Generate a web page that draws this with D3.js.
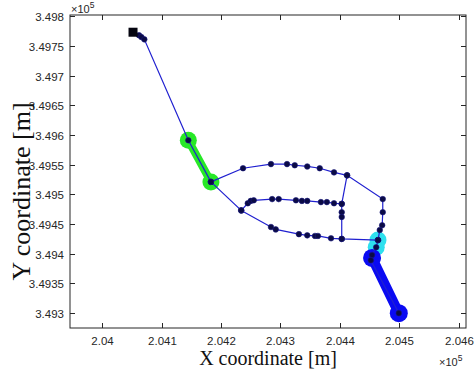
<!DOCTYPE html>
<html><head><meta charset="utf-8">
<script src="https://cdn.jsdelivr.net/npm/d3@7"></script>
<style>body{margin:0;background:#fff}svg{display:block}</style>
</head><body>
<svg id="chart" width="474" height="374"></svg>
<script>
// ---- data (metres) ----
const xTicks = [204000, 204100, 204200, 204300, 204400, 204500, 204600];
const xTickLabels = ["2.04","2.041","2.042","2.043","2.044","2.045","2.046"];
const yTicks = [349300,349350,349400,349450,349500,349550,349600,349650,349700,349750,349800];
const yTickLabels = ["3.493","3.4935","3.494","3.4945","3.495","3.4955","3.496","3.4965","3.497","3.4975","3.498"];

// trunk from start to first junction
const trunkX = [204052, 204062, 204066, 204071, 204145, 204183];
const trunkY = [349773, 349768, 349765, 349761, 349591, 349521];
// outer upper arc to east side
const outerX = [204183, 204237, 204284, 204311, 204324, 204345, 204366, 204390, 204412, 204472, 204472, 204471, 204467, 204464];
const outerY = [349521, 349544, 349551, 349551, 349549, 349547, 349544, 349537, 349532, 349492, 349470, 349448, 349440, 349423];
// connector from arc down the middle column
const connX = [204412, 204403, 204403, 204403, 204403];
const connY = [349532, 349484, 349470, 349462, 349425];
// inner row
const innerX = [204183, 204234, 204245, 204250, 204255, 204286, 204297, 204326, 204336, 204345, 204368, 204378, 204390, 204403];
const innerY = [349521, 349473, 349485, 349489, 349490, 349492, 349492, 349490, 349489, 349489, 349487, 349487, 349485, 349484];
// lower row
const lowerX = [204234, 204284, 204292, 204331, 204345, 204358, 204363, 204385, 204403, 204464];
const lowerY = [349473, 349445, 349441, 349433, 349431, 349430, 349430, 349426, 349425, 349423];
// exit leg
const exitX = [204464, 204461, 204454, 204452, 204499];
const exitY = [349423, 349411, 349398, 349389, 349300];

// highlighted segments
const greenX = [204145, 204183], greenY = [349591, 349521];
const cyanX  = [204464, 204461], cyanY  = [349423, 349411];
const blueX  = [204454, 204499], blueY  = [349393, 349300];

const startX = [204052], startY = [349773];

// ---- layout ----
const svg = d3.select("#chart");
const L = 70, R = 466, T = 15, B = 328;
const x = d3.scaleLinear().domain([203946, 204612]).range([L, R]);
const y = d3.scaleLinear().domain([349275, 349802]).range([B, T]);

const zip = (xs, ys) => xs.map((v, i) => [v, ys[i]]);
const line = d3.line().x(d => x(d[0])).y(d => y(d[1]));

const clip = svg.append("clipPath").attr("id", "clp").append("rect")
  .attr("x", L).attr("y", T).attr("width", R - L).attr("height", B - T);
const plot = svg.append("g").attr("clip-path", "url(#clp)");

// highlight segments
function highlight(xs, ys, color, w, r) {
  const pts = zip(xs, ys);
  plot.append("path").attr("d", line(pts)).attr("fill", "none")
    .attr("stroke", color).attr("stroke-width", w).attr("stroke-linecap", "round");
  plot.selectAll(null).data(pts).enter().append("circle")
    .attr("cx", d => x(d[0])).attr("cy", d => y(d[1])).attr("r", r).attr("fill", color);
}
highlight(greenX, greenY, "#27e827", 8, 8.5);
highlight(cyanX, cyanY, "#2ee0ee", 9, 8.5);
highlight(blueX, blueY, "#0a0af2", 10, 9);

const routes = [[trunkX, trunkY], [outerX, outerY], [connX, connY], [innerX, innerY], [lowerX, lowerY], [exitX, exitY]];
routes.forEach(([xs, ys]) => {
  plot.append("path").attr("d", line(zip(xs, ys))).attr("fill", "none")
    .attr("stroke", "#2020d0").attr("stroke-width", 1.2);
});
routes.forEach(([xs, ys]) => {
  plot.selectAll(null).data(zip(xs, ys)).enter().append("circle")
    .attr("cx", d => x(d[0])).attr("cy", d => y(d[1])).attr("r", 2.8)
    .attr("fill", "#0b0b45").attr("stroke", "#1a1a80").attr("stroke-width", 0.6);
});
// start marker
plot.selectAll(null).data(zip(startX, startY)).enter().append("rect")
  .attr("x", d => x(d[0]) - 4.5).attr("y", d => y(d[1]) - 4.5)
  .attr("width", 9).attr("height", 9).attr("fill", "#050510");

// ---- axes (MATLAB-style box, inward ticks) ----
const axColor = "#262626", tk = 5;
const ax = svg.append("g");
ax.append("rect").attr("x", L).attr("y", T).attr("width", R - L).attr("height", B - T)
  .attr("fill", "none").attr("stroke", axColor).attr("stroke-width", 1);
xTicks.forEach((v, i) => {
  const px = Math.round(x(v)) + 0.5;
  ax.append("line").attr("x1", px).attr("x2", px).attr("y1", B).attr("y2", B - tk).attr("stroke", axColor);
  ax.append("line").attr("x1", px).attr("x2", px).attr("y1", T).attr("y2", T + tk).attr("stroke", axColor);
  ax.append("text").attr("x", px).attr("y", B + 17).attr("text-anchor", "middle")
    .attr("font-family", "Liberation Sans, Arial, sans-serif").attr("font-size", 11.5)
    .attr("fill", axColor).text(xTickLabels[i]);
});
yTicks.forEach((v, i) => {
  const py = Math.round(y(v)) + 0.5;
  ax.append("line").attr("x1", L).attr("x2", L + tk).attr("y1", py).attr("y2", py).attr("stroke", axColor);
  ax.append("line").attr("x1", R).attr("x2", R - tk).attr("y1", py).attr("y2", py).attr("stroke", axColor);
  ax.append("text").attr("x", L - 6).attr("y", py + 4).attr("text-anchor", "end")
    .attr("font-family", "Liberation Sans, Arial, sans-serif").attr("font-size", 11.5)
    .attr("fill", axColor).text(yTickLabels[i]);
});

function expo(px, py) {
  const t = ax.append("text").attr("x", px).attr("y", py)
    .attr("font-family", "Liberation Sans, Arial, sans-serif").attr("font-size", 11).attr("fill", axColor);
  t.append("tspan").text("\u00d710");
  t.append("tspan").attr("font-size", 8.5).attr("dy", -5).text("5");
}
expo(71, 13);
expo(439, 366);

// axis titles
svg.append("text").attr("x", (L + R) / 2).attr("y", 365).attr("text-anchor", "middle")
  .attr("font-family", "Liberation Serif, Times New Roman, serif").attr("font-size", 20)
  .attr("fill", "#111").text("X coordinate [m]");
svg.append("text").attr("transform", `translate(30,${(T + B) / 2 + 20}) rotate(-90)`)
  .attr("text-anchor", "middle")
  .attr("font-family", "Liberation Serif, Times New Roman, serif").attr("font-size", 26)
  .attr("fill", "#111").text("Y coordinate [m]");
</script>
</body></html>
